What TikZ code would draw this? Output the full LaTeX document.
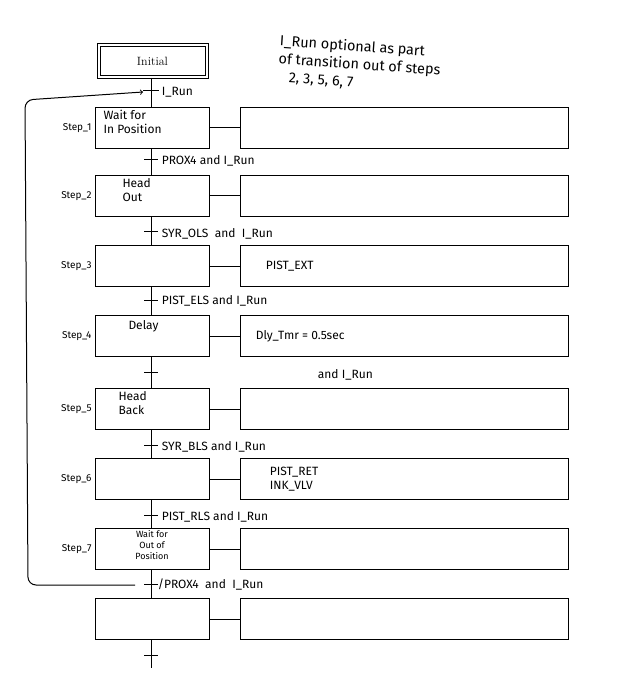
\documentclass[tikz,border=0pt]{standalone}
\usepackage{fontspec}
\newfontfamily\hand{Fira Sans}
\begin{document}
\begin{tikzpicture}[x=1pt,y=-1pt,line width=1pt,
  sbox/.style={draw,minimum width=114pt,minimum height=41pt,anchor=north west,inner sep=0pt},
  act/.style={draw,minimum width=328pt,minimum height=41pt,anchor=north west,inner sep=0pt},
  lbl/.style={font=\hand\normalsize,anchor=east,inner sep=1pt},
  tl/.style={font=\hand\large,anchor=west},
  tx/.style={font=\hand\large,align=left,anchor=north west,inner sep=0pt},
  tick/.style={line width=1pt}]
\useasboundingbox (0,0) rectangle (641,700);
\node[draw,double,double distance=2pt,minimum width=108pt,minimum height=32pt,anchor=north west,font=\large] (init) at (98,45) {Initial};
\foreach \t/\i in {107/1,175/2,245/3,315/4,388/5,458/6,528/7,598/8} {
  \node[sbox] (s\i) at (95,\t) {};
  \node[act] (a\i) at (240,\t) {};
  \draw (s\i.east) -- (a\i.west);
}
\node[lbl] (L1) at ([xshift=-2pt]s1.west) {Step\_1};
\node[lbl] (L2) at ([xshift=-2pt]s2.west) {Step\_2};
\node[lbl] (L3) at ([xshift=-2pt]s3.west) {Step\_3};
\node[lbl] (L4) at ([xshift=-2pt]s4.west) {Step\_4};
\node[lbl] (L5) at ([xshift=-2pt]s5.west) {Step\_5};
\node[lbl] (L6) at ([xshift=-2pt]s6.west) {Step\_6};
\node[lbl] (L7) at ([xshift=-2pt]s7.west) {Step\_7};
% step texts
\node[tx] (t1) at (103,110) {Wait for\\In Position};
\node[tx] (t2) at (122,178) {Head\\Out};
\node[tx] (t4) at (128,320) {Delay};
\node[tx] (t5) at (118,391) {Head\\Back};
\node[font=\hand\small,align=center,anchor=north,inner sep=0pt] (t7) at (152,530) {Wait for\\Out of\\Position};
% action texts
\node[font=\hand\large,anchor=west] (x3) at (262,266) {PIST\_EXT};
\node[font=\hand\large,anchor=west] (x4) at (252,336) {Dly\_Tmr = 0.5sec};
\node[font=\hand\large,align=left,anchor=west] (x6) at (266,479) {PIST\_RET\\INK\_VLV};
% vertical links and transitions
\coordinate (c0) at (151,91);
\draw (init.south -| c0) -- (s1.north -| c0);
\foreach \a/\b/\y in {1/2/160,2/3/232,3/4/300,4/5/372,5/6/445,6/7/515,7/8/584}{
  \draw (s\a.south -| c0) -- (s\b.north -| c0);
  \coordinate (tr\a) at (151,\y);
  \draw[tick] ([xshift=-7pt]tr\a) -- ([xshift=7pt]tr\a);
}
\draw[tick] (143,91) -- (159,91);
\coordinate (end) at (151,668);
\draw (s8.south -| c0) -- (end);
\draw[tick] (144,655) -- (158,655);
% transition labels
\node[tl] at (158,92) {I\_Run};
\node[tl] at (158,161) {PROX4 and I\_Run};
\node[tl] at (158,234) {SYR\_OLS \ and \ I\_Run};
\node[tl] at (158,301) {PIST\_ELS and I\_Run};
\node[tl] at (314,375) {and I\_Run};
\node[tl] at (158,447) {SYR\_BLS and I\_Run};
\node[tl] at (158,517) {PIST\_RLS and I\_Run};
\node[tl] at (154,585) {/PROX4 \ and \ I\_Run};
% loop
\coordinate (lp1) at (135,585);
\coordinate (lp2) at (28,585);
\coordinate (lp3) at (25,100);
\draw[->,rounded corners=8pt] (lp1) -- (lp2) -- (lp3) -- (143,92);
% note
\node[font=\hand\Large,align=left,anchor=north west,inner sep=0pt,rotate=-4] (note) at (280,34) {I\_Run optional as part\\of transition out of steps\\\ \ \ 2, 3, 5, 6, 7};
\end{tikzpicture}
\end{document}
